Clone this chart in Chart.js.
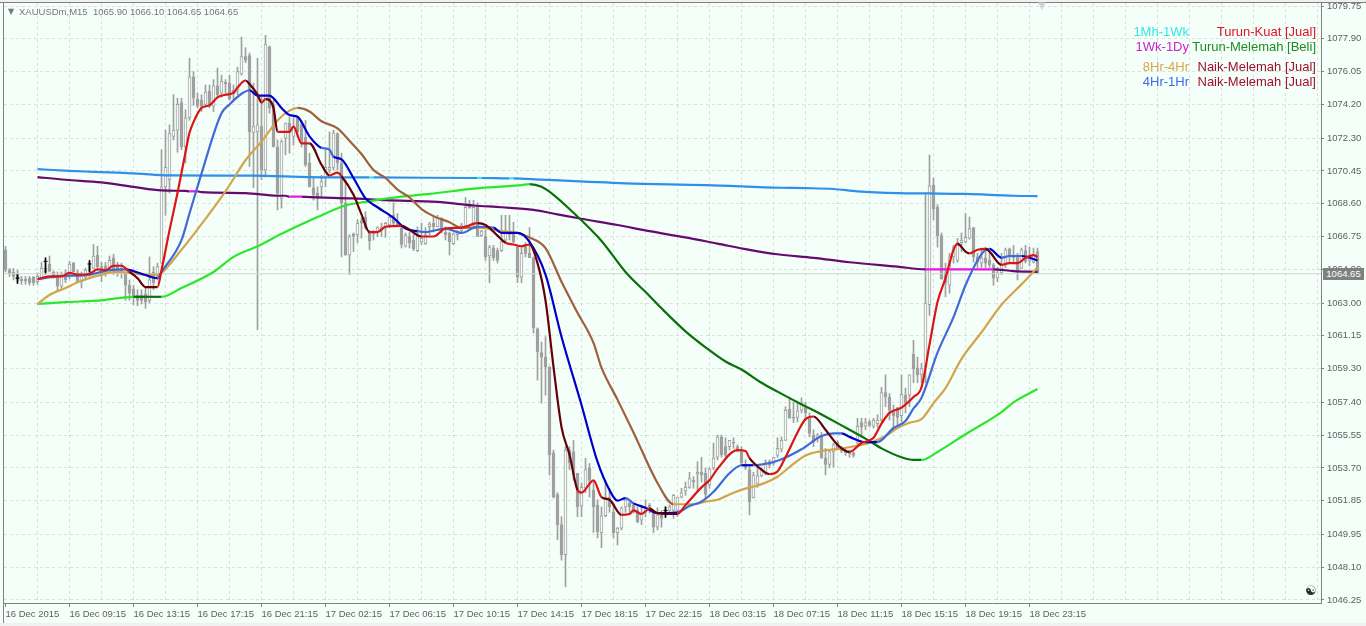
<!DOCTYPE html>
<html>
<head>
<meta charset="utf-8">
<title>XAUUSDm,M15</title>
<script src="https://cdn.jsdelivr.net/npm/chart.js@4"></script>
<style>
  html, body { margin: 0; padding: 0; width: 1366px; height: 626px; overflow: hidden; background: #F5FFFA; }
  canvas { position: absolute; left: 0; top: 0; }
  .frame { position: absolute; background: #808080; }
  .txt { position: absolute; white-space: nowrap; font-family: "Liberation Sans", sans-serif; line-height: 14px; }
  .legend { font-size: 13px; text-align: right; }
</style>
</head>
<body>
<canvas id="chart" width="1366" height="626"></canvas>
<div class="frame" style="left:0;top:0;width:1366px;height:2px;background:#f0f0f0"></div>
<div class="frame" style="left:0;top:2px;width:1366px;height:1px"></div>
<div class="frame" style="left:3px;top:2px;width:1px;height:621px"></div>
<div class="frame" style="left:0;top:623px;width:1366px;height:3px;background:#f0f0f0"></div>
<div class="txt" style="left:8px;top:5px;font:8px 'DejaVu Sans';line-height:14px;color:#777">▼</div>
<div class="txt" style="left:19px;top:5px;font-size:9.5px;color:#777">XAUUSDm,M15&nbsp; 1065.90 1066.10 1064.65 1064.65</div>
<div class="txt" style="left:1038px;top:-1px;font:10px 'DejaVu Sans';line-height:14px;color:#d4d4d4">▼</div>
<div class="txt" style="left:1305px;top:584px;font:13px 'DejaVu Sans';line-height:14px;color:#223322">☯</div>
<div class="txt" style="left:1323px;top:268px;width:41px;height:12px;background:#808080;color:#fff;font-size:9.5px;line-height:12px;text-align:center">1064.65</div>

<div class="txt legend" style="right:177px;top:25px;color:#33E6E6">1Mh-1Wk</div>
<div class="txt legend" style="right:50px;top:25px;color:#DC1428">Turun-Kuat [Jual]</div>
<div class="txt legend" style="right:177px;top:40px;color:#D020D0">1Wk-1Dy</div>
<div class="txt legend" style="right:50px;top:40px;color:#228B22">Turun-Melemah [Beli]</div>
<div class="txt legend" style="right:177px;top:60px;color:#DAA54A">8Hr-4Hr</div>
<div class="txt legend" style="right:50px;top:60px;color:#A01030">Naik-Melemah [Jual]</div>
<div class="txt legend" style="right:177px;top:75px;color:#4169E1">4Hr-1Hr</div>
<div class="txt legend" style="right:50px;top:75px;color:#A01030">Naik-Melemah [Jual]</div>

<script>
// ===== Candles, one entry per M15 bar =====
const highs = [
  1066.2,1064.95,1064.95,1064.85,1064.5,1064.5,1064.5,1064.5,1064.7,1065.3,
  1065.25,1065.65,1064.8,1064.75,1064.75,1064.85,1065.35,1065.3,1064.85,1064.75,
  1064.95,1065.3,1066.3,1066.2,1065.3,1065.3,1065.65,1065.75,1065.3,1065.25,
  1064.75,1064.3,1064.0,1063.75,1063.75,1063.85,1065.6,1065.05,1065.25,1071.65,
  1072.75,1073.05,1074.75,1074.55,1074.55,1073.9,1076.8,1076.05,1074.85,1074.75,
  1075.3,1075.3,1075.6,1076.25,1075.85,1075.6,1075.85,1075.3,1076.3,1078.0,
  1077.4,1077.1,1075.4,1076.8,1074.6,1078.1,1077.5,1074.45,1072.2,1072.2,
  1073.15,1073.5,1073.45,1073.5,1073.3,1073.3,1071.45,1070.1,1069.55,1070.2,
  1071.65,1072.65,1072.75,1072.6,1071.45,1069.95,1066.85,1066.95,1067.7,1067.8,
  1068.15,1067.1,1067.1,1067.3,1067.5,1067.55,1067.95,1068.65,1068.05,1067.3,
  1066.95,1067.0,1066.85,1067.3,1067.5,1067.25,1067.55,1067.95,1067.95,1067.8,
  1067.3,1067.0,1066.95,1067.1,1067.5,1068.95,1068.8,1068.8,1068.65,1067.1,
  1067.1,1066.25,1066.25,1066.1,1067.95,1067.95,1067.95,1067.55,1066.25,1066.15,
  1066.4,1067.25,1065.6,1061.6,1060.8,1061.1,1059.4,1054.7,1052.3,1050.95,
  1054.9,1054.9,1055.25,1053.4,1052.85,1054.25,1053.95,1053.0,1051.9,1051.5,
  1053.0,1052.55,1051.7,1050.35,1051.5,1052.05,1051.8,1051.7,1051.5,1051.6,
  1051.9,1051.7,1051.3,1051.45,1051.3,1051.5,1051.6,1052.2,1052.05,1052.55,
  1052.9,1053.45,1053.2,1054.05,1054.3,1053.7,1053.7,1055.1,1055.55,1055.55,
  1055.4,1055.25,1055.4,1055.0,1054.9,1054.15,1053.85,1053.45,1053.75,1053.7,
  1054.15,1054.15,1054.3,1055.4,1055.45,1057.15,1057.7,1057.4,1057.35,1057.65,
  1057.4,1056.8,1055.85,1055.65,1055.7,1054.8,1054.7,1055.1,1055.25,1054.9,
  1054.8,1054.7,1054.6,1056.5,1056.5,1056.5,1056.4,1056.5,1056.7,1058.25,
  1058.95,1057.9,1057.25,1057.1,1058.95,1058.2,1058.95,1060.9,1059.95,1059.6,
  1069.2,1071.35,1070.05,1068.55,1066.95,1065.25,1065.8,1066.25,1066.65,1066.95,
  1068.05,1067.85,1067.25,1065.8,1066.1,1066.15,1065.8,1065.25,1065.0,1065.8,
  1066.1,1066.1,1066.25,1065.8,1066.1,1066.25,1066.15,1066.1,1066.1
];
const lows = [
  1064.75,1064.5,1064.3,1064.2,1064.05,1064.05,1064.0,1064.0,1064.05,1064.3,
  1064.6,1064.75,1064.4,1063.75,1063.85,1064.15,1064.35,1064.75,1064.15,1063.85,
  1064.3,1064.5,1064.95,1064.95,1064.2,1064.5,1064.75,1064.6,1064.5,1064.4,
  1063.15,1063.15,1062.9,1062.85,1062.95,1062.7,1063.0,1063.75,1064.3,1065.25,
  1067.95,1069.2,1072.2,1071.5,1071.65,1070.9,1073.3,1074.15,1074.0,1073.8,
  1074.05,1074.0,1073.8,1074.6,1074.6,1074.85,1074.45,1074.45,1074.75,1075.85,
  1076.55,1070.7,1069.5,1061.5,1069.95,1070.1,1073.7,1071.8,1068.25,1068.35,
  1071.35,1071.45,1071.9,1072.35,1071.8,1070.7,1069.55,1068.8,1068.25,1068.95,
  1069.55,1070.35,1070.5,1070.5,1065.6,1065.7,1064.6,1065.9,1066.4,1066.65,
  1067.15,1066.0,1066.55,1066.75,1066.75,1066.7,1067.25,1067.3,1067.3,1066.1,
  1066.15,1066.1,1065.95,1065.9,1066.3,1066.3,1066.85,1067.0,1067.3,1066.95,
  1066.55,1065.7,1066.3,1066.55,1066.95,1067.2,1068.35,1067.3,1066.75,1066.75,
  1065.4,1064.15,1065.4,1065.25,1065.9,1066.4,1066.55,1066.4,1064.15,1064.15,
  1065.6,1065.55,1061.3,1058.65,1057.35,1057.8,1053.3,1052.0,1049.65,1048.5,
  1047.0,1053.6,1053.0,1050.95,1050.95,1052.3,1052.05,1050.05,1049.75,1049.2,
  1050.95,1051.2,1049.75,1049.35,1050.2,1051.2,1051.2,1051.15,1050.6,1050.5,
  1050.95,1051.15,1050.05,1050.2,1050.35,1051.05,1051.2,1050.85,1050.95,1052.0,
  1052.15,1052.55,1052.55,1052.35,1052.9,1052.0,1052.55,1053.6,1054.15,1054.3,
  1054.3,1054.7,1054.8,1054.6,1053.85,1053.6,1051.05,1052.0,1052.6,1053.2,
  1053.3,1053.7,1053.85,1054.3,1054.6,1055.25,1056.5,1056.25,1056.3,1056.8,
  1056.4,1055.45,1054.9,1055.15,1054.25,1053.3,1053.7,1053.75,1054.7,1054.55,
  1054.4,1054.3,1054.3,1055.0,1055.55,1055.85,1056.0,1055.95,1056.0,1056.3,
  1057.15,1056.4,1056.0,1056.1,1056.3,1056.8,1057.15,1058.5,1058.5,1058.5,
  1058.5,1062.3,1067.7,1066.15,1064.35,1063.35,1063.55,1065.25,1065.3,1065.9,
  1066.4,1066.6,1065.3,1065.0,1065.0,1065.0,1065.0,1064.0,1064.2,1064.6,
  1065.0,1065.25,1065.25,1064.3,1064.95,1065.25,1065.1,1065.25,1064.65
];
const opens = [
  1066.0,1064.85,1064.75,1064.6,1064.35,1064.35,1064.4,1064.45,1064.2,1064.35,
  1064.75,1065.2,1064.75,1064.45,1063.95,1064.7,1064.6,1065.25,1064.7,1064.2,
  1064.45,1064.85,1064.95,1065.7,1065.05,1065.1,1064.95,1065.55,1065.15,1064.95,
  1064.75,1064.0,1063.8,1063.45,1063.45,1063.5,1063.15,1064.75,1064.6,1065.25,
  1069.55,1069.95,1072.4,1072.75,1074.3,1071.8,1073.45,1075.75,1074.5,1074.45,
  1074.2,1074.95,1074.1,1075.25,1074.85,1075.45,1075.4,1075.0,1075.0,1075.9,
  1076.9,1076.95,1072.6,1072.65,1072.95,1070.5,1077.45,1074.15,1071.8,1068.9,
  1072.3,1073.15,1072.4,1073.45,1073.1,1072.35,1070.9,1069.5,1069.2,1069.55,
  1070.1,1070.5,1070.65,1072.55,1070.9,1068.65,1065.7,1066.9,1066.85,1067.65,
  1067.85,1067.0,1067.0,1067.0,1067.15,1067.3,1067.4,1067.95,1067.55,1067.25,
  1066.2,1066.75,1066.55,1065.95,1066.45,1066.35,1067.3,1067.5,1067.3,1067.8,
  1067.0,1066.95,1066.35,1066.85,1067.1,1067.35,1068.55,1067.5,1068.4,1066.8,
  1066.75,1065.65,1066.1,1065.95,1065.95,1066.55,1066.85,1067.0,1066.15,1064.45,
  1066.15,1065.8,1065.55,1061.55,1060.2,1059.95,1059.4,1054.55,1052.2,1050.5,
  1048.8,1054.7,1054.6,1053.4,1051.55,1052.55,1053.7,1052.45,1051.6,1050.05,
  1051.0,1052.05,1051.2,1050.05,1050.3,1051.5,1051.7,1051.6,1051.3,1050.75,
  1051.2,1051.6,1051.2,1050.35,1051.05,1051.3,1051.3,1051.3,1051.3,1052.05,
  1052.4,1052.6,1053.0,1053.35,1053.45,1053.4,1052.75,1053.7,1054.3,1055.45,
  1054.9,1054.9,1055.15,1054.9,1054.6,1053.85,1053.6,1052.0,1052.8,1053.25,
  1053.45,1054.05,1053.95,1054.4,1054.75,1055.25,1057.0,1056.55,1056.55,1056.95,
  1057.1,1056.5,1055.55,1055.35,1055.45,1054.25,1053.9,1054.6,1055.15,1054.8,
  1054.7,1054.6,1054.55,1055.1,1056.25,1056.05,1056.3,1056.05,1056.2,1056.4,
  1057.95,1057.7,1056.95,1057.1,1056.65,1057.8,1057.8,1060.1,1059.35,1058.95,
  1059.4,1062.9,1069.65,1068.4,1066.8,1064.7,1064.0,1065.6,1065.4,1066.4,
  1066.45,1066.65,1067.25,1065.6,1065.25,1065.55,1065.4,1065.15,1064.4,1064.7,
  1065.25,1066.05,1065.55,1065.7,1064.95,1065.95,1065.4,1065.3,1065.9
];
const closes = [
  1064.85,1064.65,1064.5,1064.35,1064.25,1064.25,1064.15,1064.15,1064.5,1064.95,
  1064.95,1064.8,1064.5,1063.95,1064.6,1064.3,1065.2,1064.75,1064.2,1064.55,
  1064.85,1065.1,1065.65,1065.05,1064.6,1064.75,1065.4,1064.75,1064.65,1064.75,
  1064.0,1063.55,1063.3,1063.15,1063.15,1063.05,1064.3,1064.15,1065.05,1069.55,
  1070.65,1072.55,1072.75,1074.2,1071.8,1073.45,1075.75,1074.55,1074.1,1074.1,
  1074.9,1074.2,1075.25,1074.75,1075.5,1075.35,1074.5,1074.8,1076.05,1076.9,
  1076.7,1072.65,1072.95,1073.05,1070.5,1077.6,1074.0,1071.8,1069.2,1072.1,
  1073.15,1072.6,1072.95,1072.65,1072.0,1070.8,1069.55,1069.1,1068.9,1069.85,
  1070.65,1070.65,1072.6,1070.9,1068.65,1065.7,1066.75,1066.75,1067.5,1067.5,
  1067.25,1066.5,1066.9,1067.25,1067.3,1067.5,1067.85,1067.5,1067.35,1066.3,
  1066.8,1066.4,1066.05,1066.75,1066.65,1066.85,1067.45,1067.3,1067.8,1067.25,
  1066.85,1066.45,1066.9,1067.0,1067.4,1068.4,1068.35,1068.4,1066.75,1067.05,
  1065.6,1066.15,1065.55,1065.4,1066.45,1066.95,1067.0,1066.45,1064.45,1065.8,
  1065.8,1065.55,1061.6,1060.25,1059.95,1059.4,1054.45,1052.05,1050.5,1048.8,
  1054.7,1054.0,1053.3,1051.5,1052.6,1053.6,1053.0,1051.5,1050.1,1051.0,
  1052.05,1051.5,1050.05,1050.3,1051.45,1051.9,1051.5,1051.3,1050.65,1051.15,
  1051.5,1051.3,1050.35,1051.05,1050.85,1051.15,1051.5,1052.15,1052.05,1052.3,
  1052.6,1053.1,1052.9,1053.45,1053.3,1052.2,1053.65,1054.25,1055.45,1054.45,
  1054.4,1055.25,1055.1,1054.7,1054.0,1053.7,1051.8,1053.3,1053.25,1053.6,
  1054.0,1053.85,1054.3,1054.8,1055.25,1056.95,1056.5,1056.5,1056.9,1057.35,
  1056.8,1055.65,1055.15,1055.55,1054.25,1053.9,1054.6,1055.0,1054.8,1054.65,
  1054.55,1054.5,1054.4,1056.05,1056.0,1056.25,1056.1,1056.4,1056.4,1057.95,
  1057.7,1056.95,1056.65,1056.55,1057.85,1057.35,1058.95,1059.3,1058.95,1059.3,
  1063.0,1069.6,1068.3,1066.8,1064.35,1064.15,1065.6,1066.15,1066.25,1066.55,
  1066.7,1067.2,1065.6,1065.3,1065.55,1065.25,1065.15,1064.4,1064.7,1065.15,
  1066.0,1065.6,1065.7,1064.75,1066.0,1065.35,1065.6,1065.75,1064.65
];

// ===== Moving averages: bar number + price =====
const fastBars = [8,11,14,16,18,21,23,25,27,29,31,33,35,38,39,41,43,45,46,47,49,51,53,55,57,58,60,61,63,64,65,67,68,70,71,72,74,76,79,81,83,84,87,89,91,93,95,99,104,107,110,114,118,120,123,125,127,129,131,133,135,137,139,141,143,144,147,149,151,154,156,157,159,161,163,168,170,174,176,178,183,185,186,189,191,193,195,198,200,202,205,208,211,214,217,219,221,224,227,229,231,233,235,237,238,240,241,243,245,246,249,251,253,255,257,258];
const fastVals = [1064.35,1064.5,1064.5,1064.7,1064.6,1064.65,1064.9,1064.85,1065.1,1065.1,1064.75,1064.4,1063.9,1063.9,1064.85,1067.1,1069.2,1071.5,1072.6,1073.2,1074.0,1074.15,1074.6,1074.75,1074.85,1075.15,1075.55,1075.35,1074.75,1074.3,1074.5,1074.0,1072.65,1072.65,1072.65,1072.95,1072.0,1072.0,1070.8,1070.2,1070.35,1070.15,1069.1,1068.0,1067.0,1067.0,1067.3,1067.35,1066.75,1066.75,1067.2,1067.25,1067.5,1067.4,1066.8,1066.4,1066.3,1066.2,1066.3,1065.25,1063.15,1059.4,1056.0,1054.45,1052.45,1052.3,1053.0,1052.05,1051.9,1051.05,1051.1,1051.3,1051.1,1051.4,1051.15,1051.1,1051.6,1052.6,1053.0,1053.65,1054.7,1054.65,1054.25,1053.6,1053.35,1053.5,1054.3,1055.7,1056.45,1056.6,1055.85,1055.0,1054.6,1055.1,1055.4,1056.2,1056.8,1057.1,1057.7,1058.25,1060.65,1063.05,1064.4,1066.0,1066.35,1065.9,1065.8,1066.0,1066.05,1065.9,1065.15,1065.25,1065.25,1065.55,1065.7,1065.6];

const hourBars = [8,13,21,26,30,34,38,39,44,46,49,54,56,59,61,63,66,69,71,73,76,79,81,82,84,87,90,93,97,100,103,105,110,114,118,122,124,128,131,135,139,144,148,151,153,155,157,160,163,168,171,174,177,181,184,187,193,199,204,207,209,211,215,218,222,225,227,229,233,237,240,243,245,246,249,251,254,256,258];
const hourVals = [1064.35,1064.5,1064.6,1064.85,1064.9,1064.65,1064.4,1064.75,1066.55,1068.05,1070.3,1073.7,1074.2,1074.8,1075.0,1074.7,1074.7,1074.0,1073.6,1073.5,1072.4,1071.75,1071.65,1071.25,1071.1,1070.05,1068.9,1068.4,1067.8,1067.2,1067.05,1067.0,1067.2,1066.95,1067.3,1067.25,1066.95,1066.95,1066.45,1064.6,1061.1,1057.25,1054.05,1052.45,1051.85,1052.0,1051.7,1051.45,1051.15,1051.2,1051.55,1051.8,1052.35,1053.4,1053.85,1053.85,1054.1,1054.75,1055.5,1055.65,1055.65,1055.45,1055.15,1055.15,1055.95,1056.35,1057.05,1057.65,1060.2,1062.2,1064.0,1065.4,1066.0,1066.05,1065.55,1065.65,1065.65,1065.55,1065.4];

const midBars = [8,11,15,19,24,28,31,35,38,39,44,49,55,60,64,68,71,73,76,79,83,86,89,92,95,98,101,104,107,111,114,118,124,128,131,135,139,143,147,149,153,157,163,167,172,175,178,182,186,188,193,196,200,204,209,213,216,220,223,226,229,232,235,239,244,249,254,258];
const midVals = [1062.95,1063.45,1063.85,1064.25,1064.6,1064.75,1064.7,1064.6,1064.6,1064.7,1066.0,1067.45,1069.3,1071.05,1072.1,1073.3,1073.85,1074.0,1073.8,1073.25,1072.85,1072.15,1071.4,1070.5,1070.05,1069.4,1068.95,1068.3,1067.9,1067.55,1067.25,1067.25,1067.05,1066.95,1066.7,1066.1,1064.2,1062.45,1060.75,1059.35,1057.55,1055.7,1052.85,1051.65,1051.65,1051.8,1051.9,1052.3,1052.6,1052.7,1053.2,1053.75,1054.4,1054.65,1054.8,1054.95,1055.1,1055.5,1055.95,1056.25,1056.45,1057.35,1058.2,1059.85,1061.35,1062.9,1064.05,1065.0];

const slowBars = [8,15,24,32,39,44,52,57,63,69,78,85,90,99,106,117,123,129,131,134,137,141,149,155,161,164,170,175,180,184,189,193,198,202,209,215,219,224,227,229,233,240,249,252,258];
const slowVals = [1062.95,1063.05,1063.15,1063.35,1063.35,1063.85,1064.75,1065.6,1066.2,1066.9,1067.85,1068.5,1068.7,1069.0,1069.15,1069.45,1069.55,1069.65,1069.7,1069.55,1069.1,1068.3,1066.5,1064.75,1063.4,1062.7,1061.4,1060.5,1059.7,1059.25,1058.5,1058.0,1057.4,1056.95,1056.1,1055.35,1054.8,1054.3,1054.15,1054.15,1054.6,1055.6,1056.85,1057.4,1058.15];

const dayBars = [8,15,24,32,39,45,46,48,49,60,68,70,71,74,75,87,95,108,117,124,132,138,144,153,161,170,178,186,193,202,211,223,230,247,252,258];
const dayVals = [1070.1,1069.95,1069.8,1069.55,1069.35,1069.32,1069.3,1069.3,1069.25,1069.2,1069.05,1069.05,1069.0,1069.0,1068.98,1068.9,1068.8,1068.7,1068.5,1068.4,1068.25,1068.0,1067.75,1067.4,1067.05,1066.7,1066.35,1066.0,1065.75,1065.55,1065.3,1065.05,1064.9,1064.9,1064.8,1064.75];

const weekBars = [8,16,22,28,33,41,62,76,91,92,118,119,126,127,130,155,175,194,200,207,213,223,231,240,252,258];
const weekVals = [1070.55,1070.45,1070.4,1070.35,1070.3,1070.2,1070.18,1070.1,1070.08,1070.08,1070.05,1070.05,1070.03,1070.03,1070.0,1069.75,1069.65,1069.5,1069.48,1069.43,1069.3,1069.2,1069.18,1069.15,1069.05,1069.03];

// ===== Small black signal marks =====
const markBars = [3,10,21,165];
const markHighs = [1064.6,1065.55,1065.4,1051.5];
const markLows = [1064.1,1064.7,1064.75,1050.9];

const currentPrice = 1064.65;

// ===== Axes =====
const priceTicks = [1079.75,1077.90,1076.05,1074.20,1072.30,1070.45,1068.60,1066.75,1064.90,1063.00,1061.15,1059.30,1057.40,1055.55,1053.70,1051.85,1049.95,1048.10,1046.25];
const timeLabels = ['16 Dec 2015','16 Dec 09:15','16 Dec 13:15','16 Dec 17:15','16 Dec 21:15','17 Dec 02:15','17 Dec 06:15','17 Dec 10:15','17 Dec 14:15','17 Dec 18:15','17 Dec 22:15','18 Dec 03:15','18 Dec 07:15','18 Dec 11:15','18 Dec 15:15','18 Dec 19:15','18 Dec 23:15'];
const gridBars = [];
for (let b = 0; b <= 328; b += 8) gridBars.push(b);

// ===== Colours =====
const MINT = '#F5FFFA';
const CANDLE = '#A0A0A0';
const GRID = '#D9DFDB';

function makePoints(bars, vals) {
  return bars.map((b, i) => ({ x: b, y: vals[i] }));
}

// the alt colour runs over the listed bar ranges
function maLine(label, bars, vals, color, altColor, ranges, order) {
  return {
    type: 'line', label, data: makePoints(bars, vals), order,
    borderColor: color, borderWidth: 2.2, pointRadius: 0,
    cubicInterpolationMode: 'monotone',
    segment: {
      borderColor: c => ranges.some(r => c.p0.parsed.x >= r[0] && c.p0.parsed.x < r[1]) ? altColor : undefined
    }
  };
}

// stop the scale labels from pushing the plot area in
function noLabelPadding(s) {
  s.paddingTop = 0; s.paddingBottom = 0; s.paddingLeft = 0; s.paddingRight = 0;
}

const datasets = [
  // wicks
  {
    type: 'bar', label: 'wick', order: 21, grouped: false, barThickness: 1,
    backgroundColor: CANDLE,
    data: highs.map((h, i) => ({ x: i, y: [lows[i], h] }))
  },
  // bodies: up bars hollow, down bars filled
  {
    type: 'bar', label: 'body', order: 20, grouped: false, barThickness: 3,
    borderWidth: 1, borderSkipped: false, borderColor: CANDLE,
    backgroundColor: c => closes[c.dataIndex] > opens[c.dataIndex] ? MINT : CANDLE,
    data: opens.map((o, i) => ({ x: i, y: [Math.min(o, closes[i]), Math.max(o, closes[i])] }))
  },
  {
    type: 'line', label: 'price', order: 7, borderColor: '#CFD6D1', borderWidth: 1, pointRadius: 0,
    data: [{ x: -1, y: currentPrice }, { x: 330, y: currentPrice }]
  },
  maLine('1Mh-1Wk', weekBars, weekVals, '#2E90E8', '#33E6E6', [[91,92],[118,119],[126,127]], 6),
  maLine('1Wk-1Dy', dayBars, dayVals, '#660A70', '#F010E0', [[46,48],[71,74],[230,247]], 5),
  maLine('slow', slowBars, slowVals, '#2CE62C', '#0A700A', [[32,35],[131,229]], 4),
  maLine('8Hr-4Hr', midBars, midVals, '#D2A54A', '#A0603C', [[73,118],[125,167]], 3),
  maLine('4Hr-1Hr', hourBars, hourVals, '#4169D8', '#0000C8', [[30,38],[61,79],[82,103],[122,154],[156,165],[184,187],[209,216],[246,249],[253,258]], 2),
  maLine('fast', fastBars, fastVals, '#DC1414', '#660008', [[31,38],[60,64],[65,68],[76,81],[84,91],[99,104],[118,125],[131,143],[148,154],[161,165],[186,191],[202,211],[238,241],[245,249]], 1),
  {
    type: 'bar', label: 'mark', order: 0, grouped: false, barThickness: 1,
    backgroundColor: '#000',
    data: markBars.map((b, i) => ({ x: b, y: [markLows[i], markHighs[i]] }))
  },
  {
    type: 'line', label: 'markTop', order: 0, showLine: false, pointStyle: 'line',
    pointRadius: 2, pointBorderColor: '#000', pointBorderWidth: 1,
    data: markBars.map((b, i) => ({ x: b, y: markHighs[i] - 0.2 }))
  }
];

new Chart(document.getElementById('chart').getContext('2d'), {
  data: { datasets },
  options: {
    responsive: false,
    animation: false,
    layout: { autoPadding: false, padding: { left: 4, top: 3, right: 0, bottom: 0 } },
    plugins: { legend: { display: false }, tooltip: { enabled: false } },
    scales: {
      x: {
        type: 'linear', min: -0.375, max: 328.875, offset: false,
        afterFit: s => { s.height = 23; noLabelPadding(s); },
        afterBuildTicks: s => { s.ticks = gridBars.map(v => ({ value: v })); },
        border: { color: '#808080', dash: [3, 3] },
        grid: {
          offset: false,
          color: c => c.index === 0 ? 'transparent' : GRID,
          tickColor: c => (c.index % 2 === 0 && c.index / 2 < timeLabels.length) ? '#808080' : 'transparent',
          tickLength: 4, tickBorderDash: []
        },
        ticks: {
          autoSkip: false, maxRotation: 0, align: 'start', padding: 2,
          color: '#606060', font: { family: 'Liberation Sans', size: 9.5 },
          callback: (v, i) => (i % 2 === 0 && timeLabels[i / 2]) || ''
        }
      },
      y: {
        position: 'right', min: 1046.08, max: 1079.92,
        afterFit: s => { s.width = 45; noLabelPadding(s); },
        afterBuildTicks: s => { s.ticks = priceTicks.map(v => ({ value: v })); },
        border: { color: '#808080', dash: [3, 3] },
        grid: { color: GRID, tickColor: '#808080', tickLength: 3, tickBorderDash: [] },
        ticks: {
          autoSkip: false, padding: 3,
          color: '#606060', font: { family: 'Liberation Sans', size: 9.5 },
          callback: v => v.toFixed(2)
        }
      }
    }
  }
});
</script>
</body>
</html>
